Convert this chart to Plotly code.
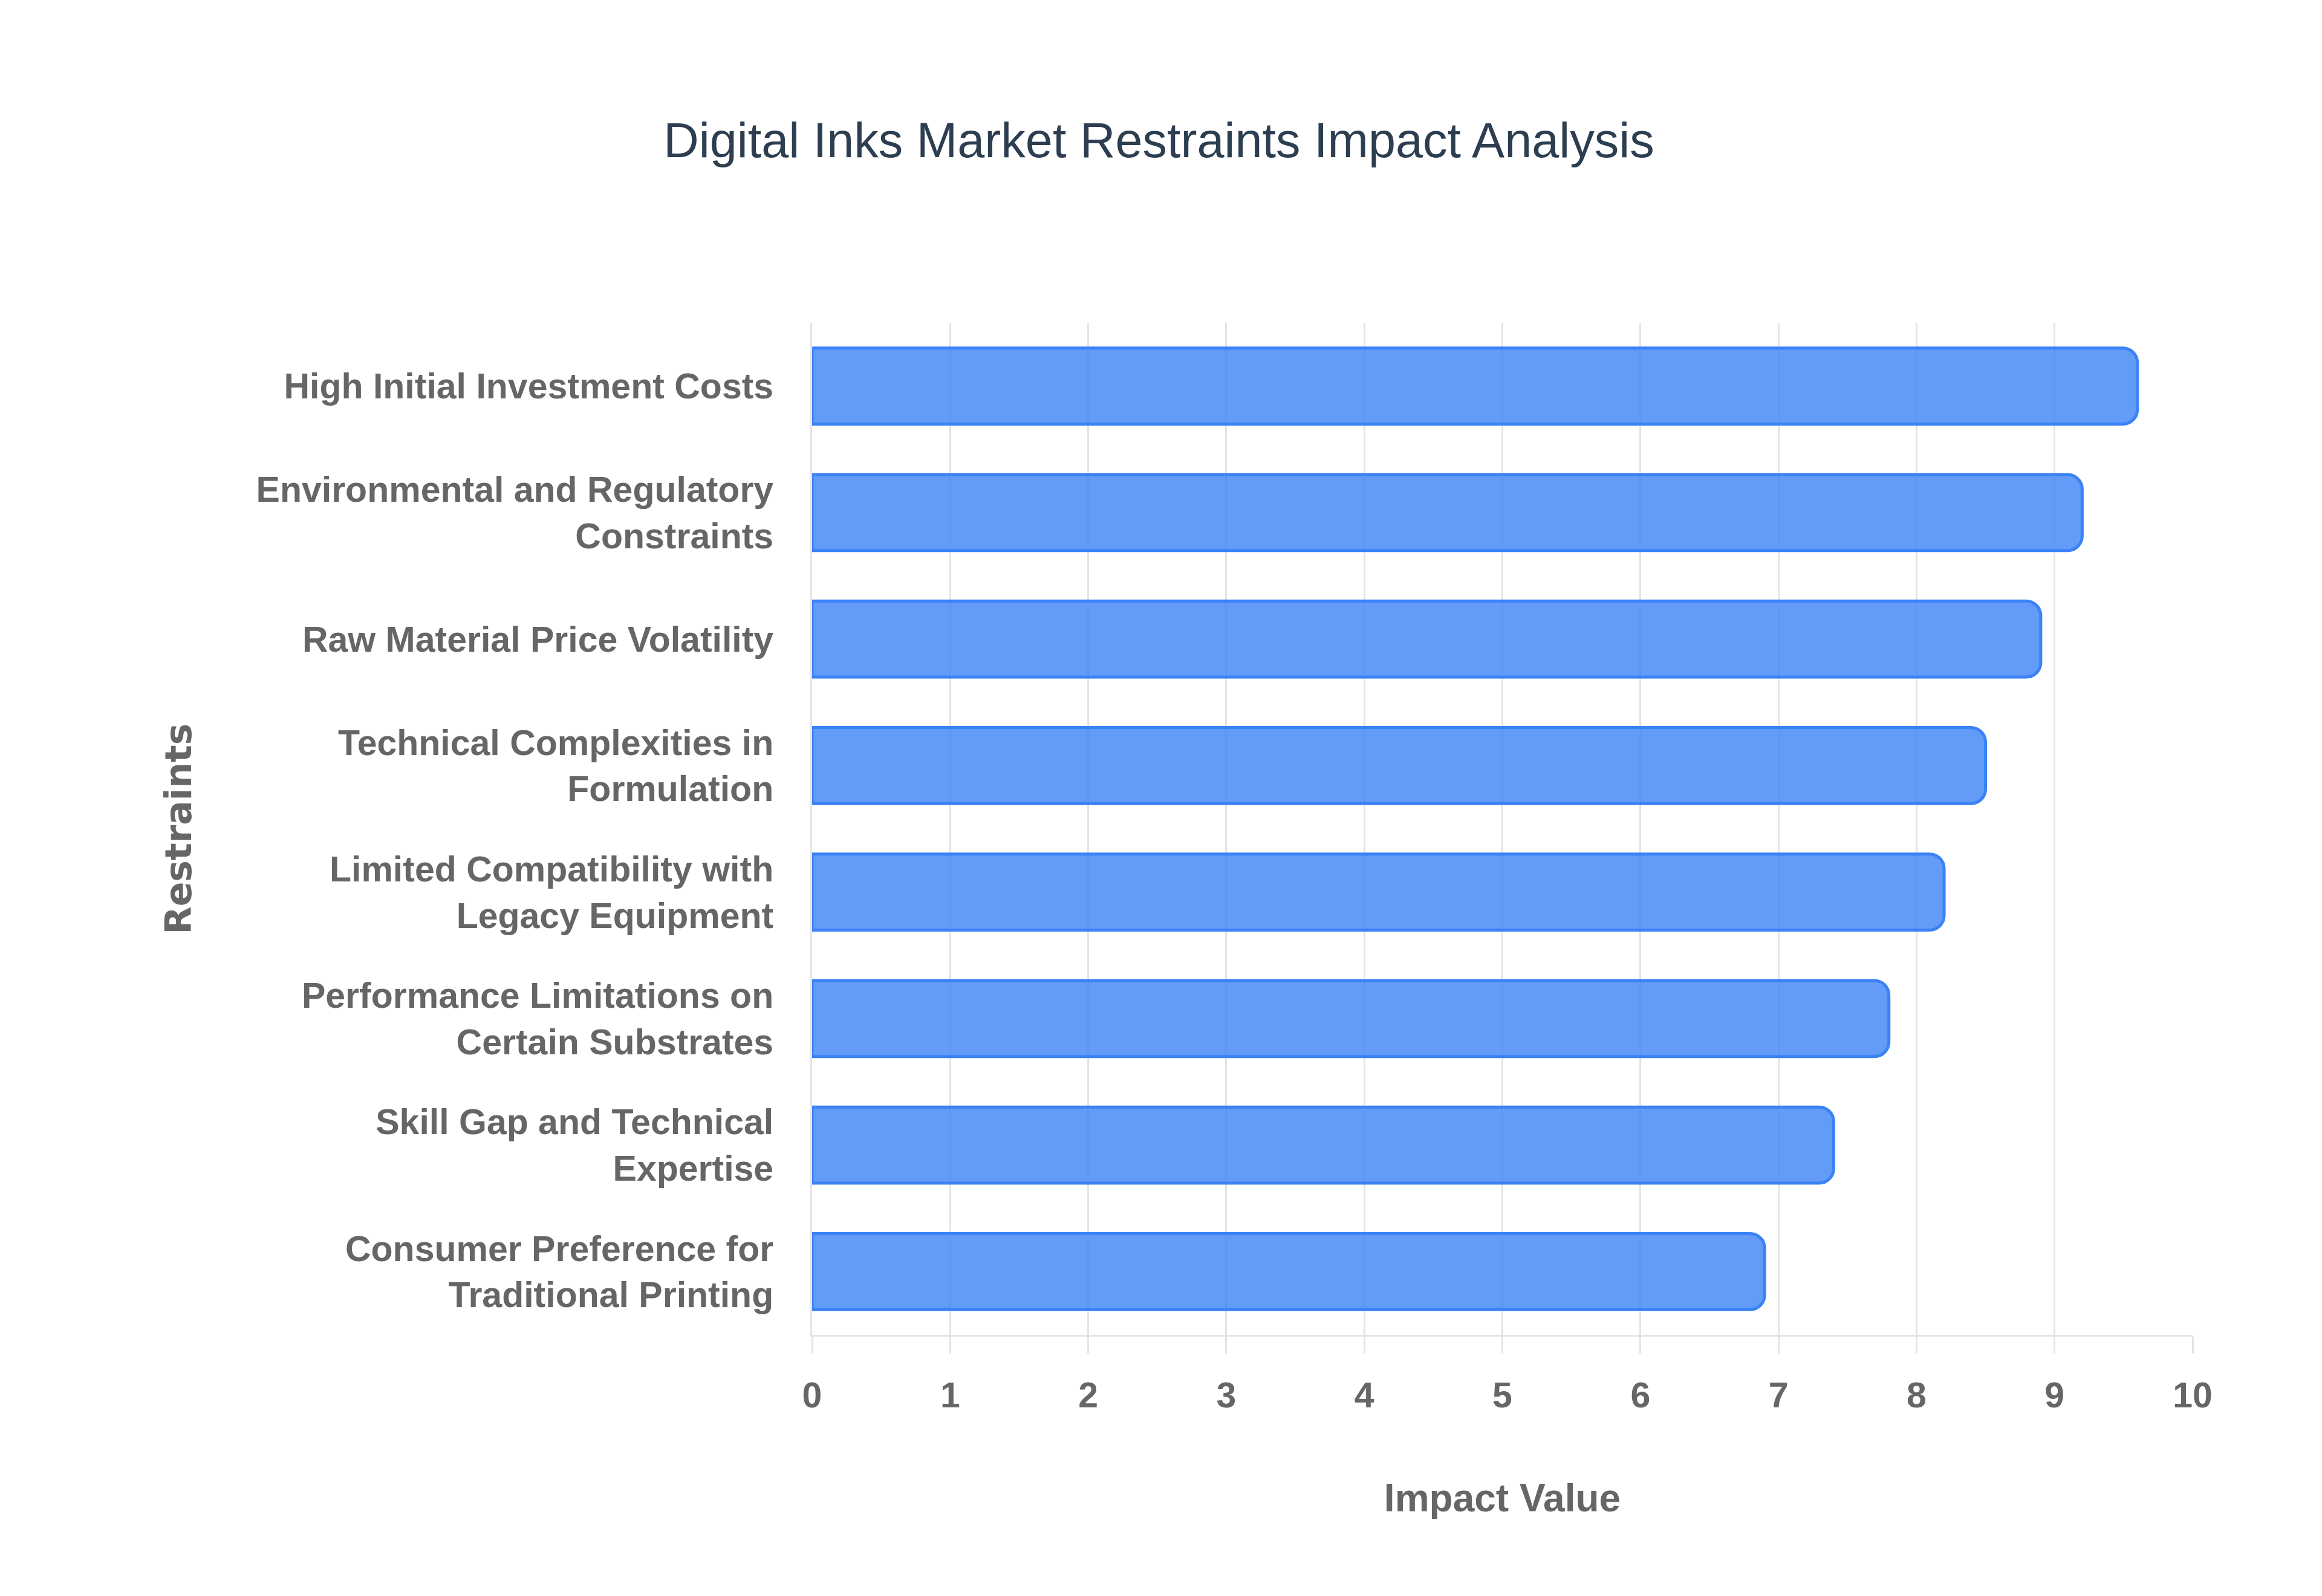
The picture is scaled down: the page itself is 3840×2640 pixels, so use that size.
import plotly.graph_objects as go

# restraint names (top to bottom) and their impact values
restraints = [
    "High Initial Investment Costs",
    "Environmental and Regulatory Constraints",
    "Raw Material Price Volatility",
    "Technical Complexities in Formulation",
    "Limited Compatibility with Legacy Equipment",
    "Performance Limitations on Certain Substrates",
    "Skill Gap and Technical Expertise",
    "Consumer Preference for Traditional Printing",
]
impact_values = [9.6, 9.2, 8.9, 8.5, 8.2, 7.8, 7.4, 6.9]

# wrapped tick labels as shown on the chart
tick_labels = [
    "High Initial Investment Costs",
    "Environmental and Regulatory<br>Constraints",
    "Raw Material Price Volatility",
    "Technical Complexities in<br>Formulation",
    "Limited Compatibility with<br>Legacy Equipment",
    "Performance Limitations on<br>Certain Substrates",
    "Skill Gap and Technical<br>Expertise",
    "Consumer Preference for<br>Traditional Printing",
]
x_ticks = list(range(0, 11))

grid_col = "#e4e4e4"
label_font = dict(family="Liberation Sans, Arial, sans-serif", size=59, color="#666666", weight="bold")

fig = go.Figure()
fig.add_trace(go.Bar(
    x=impact_values,
    y=restraints,
    orientation="h",
    marker=dict(color="rgba(59,130,246,0.8)",
                line=dict(color="#3b82f6", width=5),
                cornerradius=24),
    hoverinfo="x+y",
))

fig.update_layout(
    width=3840,
    height=2640,
    paper_bgcolor="white",
    plot_bgcolor="white",
    showlegend=False,
    bargap=0.4,
    margin=dict(l=1335, r=222, t=526, b=440, autoexpand=False),
    title=dict(text="Digital Inks Market Restraints Impact Analysis",
               font=dict(family="Liberation Sans, Arial, sans-serif", size=81, color="#2c3e50"),
               x=0.497, xref="container", xanchor="center",
               y=1 - 224 / 2640, yref="container", yanchor="middle"),
)

fig.update_xaxes(
    range=[0, 10],
    tickvals=x_ticks,
    showgrid=True, gridcolor=grid_col, gridwidth=2.5,
    zeroline=False,
    showline=True, linecolor=grid_col, linewidth=3,
    ticks="outside", ticklen=28, tickcolor=grid_col, tickwidth=2.5,
    ticklabelstandoff=18,
    tickfont=label_font,
    title=dict(text="Impact Value", font=dict(family="Liberation Sans, Arial, sans-serif",
                                              size=64, color="#666666", weight="bold"),
               standoff=116),
)

fig.update_yaxes(
    categoryorder="array",
    categoryarray=restraints,
    tickvals=restraints,
    ticktext=tick_labels,
    autorange="reversed",
    showgrid=False,
    zeroline=False,
    showline=True, linecolor=grid_col, linewidth=3,
    ticks="",
    ticklabelstandoff=49,
    tickfont=label_font,
    title=dict(text="Restraints", font=dict(family="DejaVu Sans, Verdana, sans-serif",
                                            size=60, color="#666666", weight="bold"),
               standoff=88),
)

fig.write_html("out.html")
